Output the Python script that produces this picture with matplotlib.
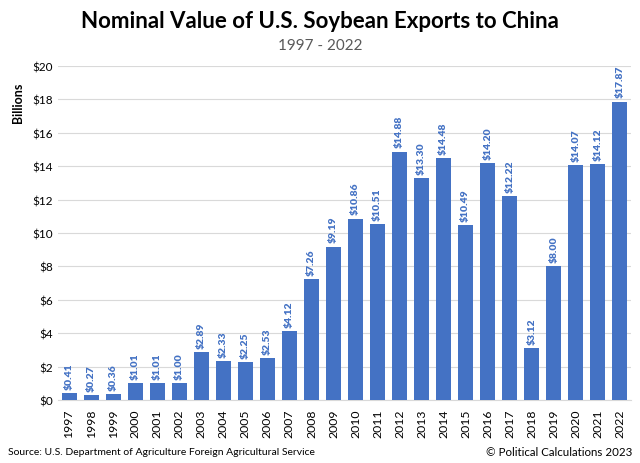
import matplotlib
matplotlib.use("Agg")
import matplotlib.pyplot as plt

plt.rcParams['font.family'] = ['Lato', 'DejaVu Sans']

years = [str(y) for y in range(1997, 2023)]
values = [0.41, 0.27, 0.36, 1.01, 1.01, 1.00, 2.89, 2.33, 2.25, 2.53, 4.12, 7.26,
          9.19, 10.86, 10.51, 14.88, 13.30, 14.48, 10.49, 14.20, 12.22, 3.12,
          8.00, 14.07, 14.12, 17.87]
yticks = [0, 2, 4, 6, 8, 10, 12, 14, 16, 18, 20]

blue = '#4472C4'
fig = plt.figure(figsize=(6.4, 4.64), dpi=100)
ax = fig.add_axes([58/640, 63/464, 573/640, 334/464])
x = list(range(len(years)))
ax.bar(x, values, width=0.68, color=blue, zorder=3)
for xi, v in zip(x, values):
    ax.text(xi, v + 0.25, f"${v:.2f}", rotation=90, ha='center', va='bottom',
            color=blue, fontsize=7.5, fontweight='heavy')
ax.set_xlim(-0.5, len(years) - 0.5)
ax.set_ylim(0, 20)
ax.set_yticks(yticks)
ax.set_yticklabels([f"${t}" for t in yticks], fontsize=8.5)
ax.set_xticks(x)
ax.set_xticklabels(years, rotation=90, fontsize=8.8)
ax.grid(axis='y', color='#d9d9d9', linewidth=0.8, zorder=0)
for s in ['top', 'right', 'left']:
    ax.spines[s].set_visible(False)
ax.spines['bottom'].set_color('#d9d9d9')
ax.tick_params(axis='both', length=0)
ax.tick_params(axis='x', pad=6)

fig.text(18/640, 1 - 103/464, 'Billions', rotation=90, ha='center', va='center',
         fontsize=9, fontweight='bold')
fig.text(0.5, 1 - 21/464, 'Nominal Value of U.S. Soybean Exports to China', ha='center',
         va='center', fontsize=16, fontweight='bold')
fig.text(0.5, 1 - 46/464, '1997 - 2022', ha='center', va='center', fontsize=11,
         color='#595959')
fig.text(8/640, 1 - 453/464, 'Source: U.S. Department of Agriculture Foreign Agricultural Service',
         ha='left', va='center', fontsize=7.5)
fig.text(632/640, 1 - 453/464, '© Political Calculations 2023', ha='right', va='center',
         fontsize=8.3)
fig.savefig('out.png', dpi=100)
